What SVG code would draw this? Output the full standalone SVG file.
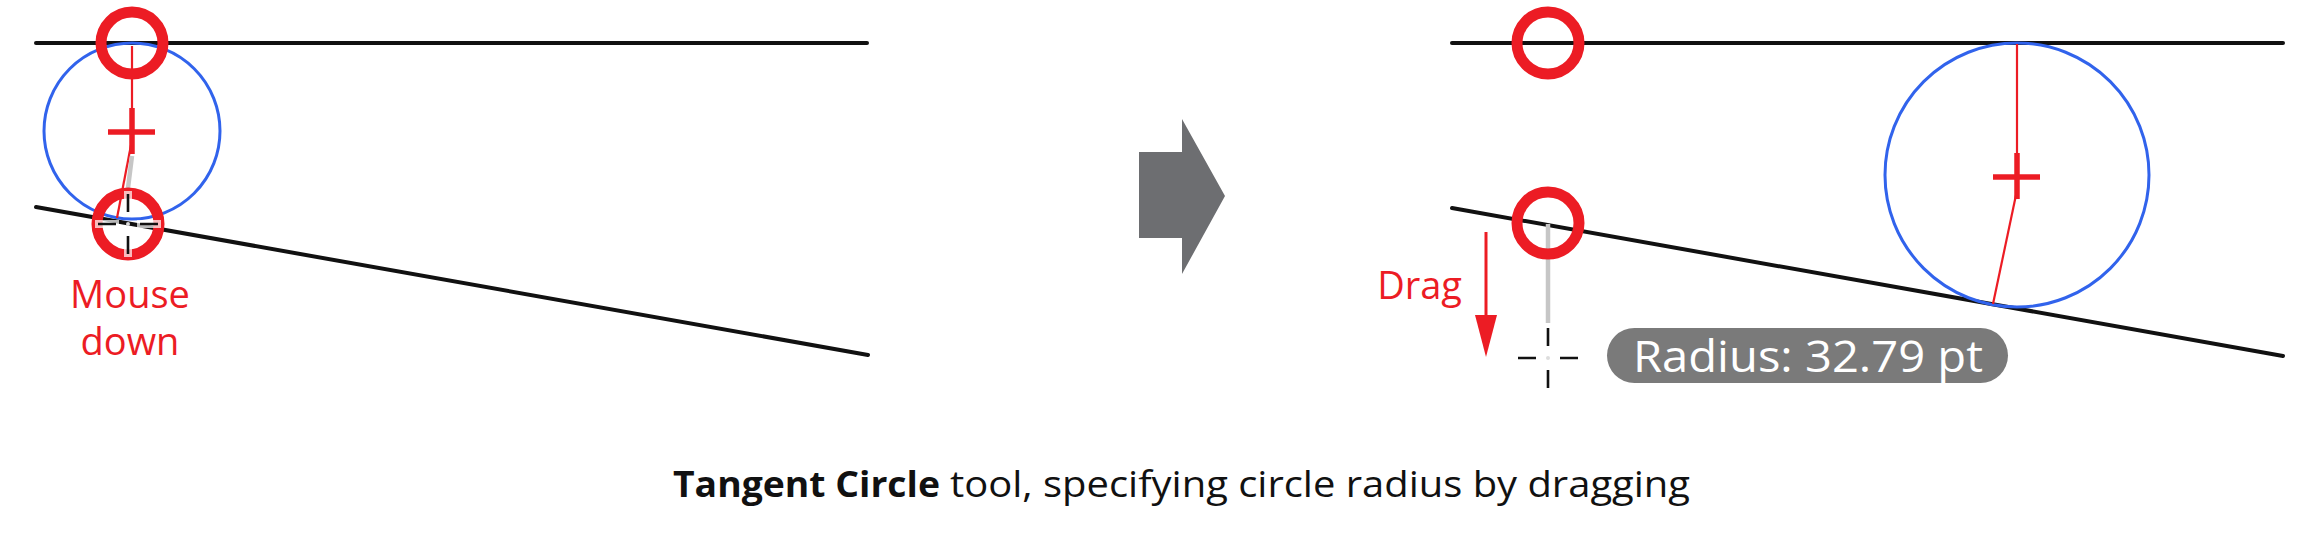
<svg xmlns="http://www.w3.org/2000/svg" width="2312" height="536" viewBox="0 0 2312 536">
<style>
.ln{stroke:#111;stroke-width:4;fill:none;stroke-linecap:round}
.ring{fill:none;stroke:#ec1c24;stroke-width:11}
.blue{fill:none;stroke:#3163ec;stroke-width:3}
.rth{stroke:#ec1c24;stroke-width:2.2;fill:none}
.rtk{stroke:#ec1c24;stroke-width:5.5;fill:none}
.gray{stroke:#c6c6c6;stroke-width:4.5;fill:none}
.cw{stroke:#fff;stroke-opacity:0.7;stroke-width:8;fill:none}
.cb{stroke:#111;stroke-width:2.6;fill:none}
.lbl{font-family:"Open Sans","Noto Sans",sans-serif;font-size:38px;fill:#ec1c24}
.cap{font-family:"Open Sans","Noto Sans",sans-serif;font-size:36px;fill:#111}
</style>
<defs>
<g id="cursor">
<path class="cw" d="M0,-33V-9M0,9V33M-33,0H-9M9,0H33"/>
<path class="cb" d="M0,-30V-12M0,12V30M-30,0H-12M12,0H30"/>
<circle r="2" fill="#ddd"/>
</g>
</defs>
<g id="left-panel">
<line class="ln" x1="36" y1="43" x2="867" y2="43"/>
<line class="ln" x1="36" y1="207" x2="868" y2="355"/>
<circle class="blue" cx="132" cy="131" r="88"/>
<g id="left-radius">
<line class="rth" x1="132" y1="46" x2="132" y2="110"/>
<line class="rtk" x1="132" y1="108" x2="132" y2="154"/>
<line class="rtk" x1="108" y1="132" x2="155" y2="132"/>
<line class="rth" x1="131" y1="145" x2="117" y2="218"/>
<line class="gray" x1="132" y1="156" x2="128" y2="188"/>
</g>
<circle class="ring" cx="132" cy="43" r="31"/>
<circle class="ring" cx="128" cy="224" r="31"/>
<use href="#cursor" x="128" y="224"/>
<text class="lbl" text-anchor="middle"><tspan x="130" y="308">Mouse</tspan><tspan x="130" y="355">down</tspan></text>
</g>
<g id="transition-arrow">
<polygon points="1139,152 1182,152 1182,119 1225,196 1182,274 1182,238 1139,238" fill="#6d6e71"/>
</g>
<g id="right-panel">
<line class="ln" x1="1452" y1="43" x2="2283" y2="43"/>
<line class="ln" x1="1452" y1="208" x2="2283" y2="356"/>
<circle class="blue" cx="2017" cy="175" r="132"/>
<g id="right-radius">
<line class="rth" x1="2017" y1="44" x2="2017" y2="155"/>
<line class="rtk" x1="2017" y1="153" x2="2017" y2="199"/>
<line class="rtk" x1="1993" y1="177" x2="2040" y2="177"/>
<line class="rth" x1="2016" y1="195" x2="1993" y2="304"/>
</g>
<circle class="ring" cx="1548" cy="43" r="31"/>
<line class="gray" x1="1548" y1="224" x2="1548" y2="323"/>
<circle class="ring" cx="1548" cy="223" r="31"/>
<use href="#cursor" x="1548" y="358"/>
<g id="drag">
<line x1="1486" y1="232" x2="1486" y2="320" stroke="#ec1c24" stroke-width="3"/>
<polygon points="1475,315 1497,315 1486,357" fill="#ec1c24"/>
<text class="lbl" x="1462" y="299" text-anchor="end">Drag</text>
</g>
<g id="radius-label">
<rect x="1607" y="328" width="401" height="55" rx="27.5" fill="#7a7a7a"/>
<text x="1633" y="372" font-family="'Open Sans','Noto Sans',sans-serif" font-size="44" fill="#fff" textLength="350" lengthAdjust="spacingAndGlyphs">Radius: 32.79 pt</text>
</g>
</g>
<g id="caption">
<text class="cap" x="673" y="497" font-weight="bold" textLength="267" lengthAdjust="spacingAndGlyphs">Tangent Circle</text>
<text class="cap" x="950" y="497" textLength="740" lengthAdjust="spacingAndGlyphs">tool, specifying circle radius by dragging</text>
</g>
</svg>
